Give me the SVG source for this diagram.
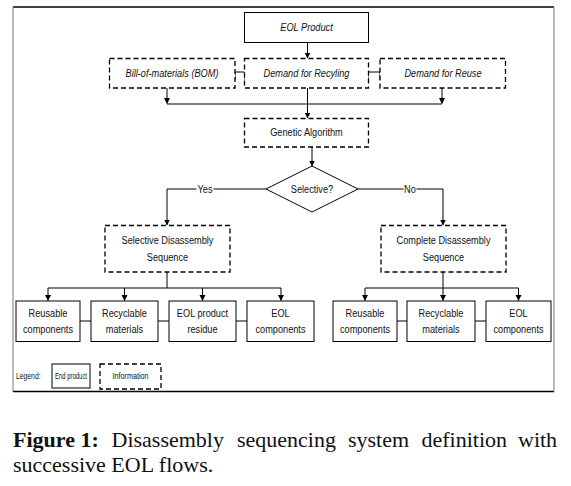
<svg xmlns="http://www.w3.org/2000/svg" width="571" height="486" viewBox="0 0 571 486">
<style>
.solid{fill:#fff;stroke:#000;stroke-width:1}
.dash{fill:#fff;stroke:#000;stroke-width:1.3;stroke-dasharray:5,3}
.t{font-family:"Liberation Sans",Arial,sans-serif;font-size:11.5px;fill:#111;text-anchor:middle}
.i{font-style:italic}
.lg{font-size:8.5px}
.ln{fill:none;stroke:#000;stroke-width:1}
.cap{font-family:"Liberation Serif","Times New Roman",serif;font-size:22px;fill:#111}
</style>
<defs>
<marker id="ar" markerWidth="6" markerHeight="7" refX="5.5" refY="3.5" orient="auto" markerUnits="userSpaceOnUse">
<path d="M0,0.5 L6,3.5 L0,6.5 Z" fill="#000"/>
</marker>
</defs>
<rect width="571" height="486" fill="#fff"/>
<g id="frame">
<line x1="13" y1="7" x2="554" y2="7" stroke="#000" stroke-width="1.5"/>
<line x1="13" y1="391.5" x2="554" y2="391.5" stroke="#000" stroke-width="1.5"/>
<line x1="13" y1="7" x2="13" y2="391.5" stroke="#777" stroke-width="1"/>
<line x1="554" y1="7" x2="554" y2="391.5" stroke="#777" stroke-width="1"/>
</g>
<g id="connectors">
<line class="ln" x1="307.5" y1="42.5" x2="307.5" y2="58" marker-end="url(#ar)"/>
<path class="ln" d="M235,80 V72 H244.5 V80"/>
<path class="ln" d="M368.5,80 V72 H380 V80"/>
<line class="ln" x1="167" y1="88" x2="167" y2="103.5" marker-end="url(#ar)"/>
<line class="ln" x1="442" y1="88" x2="442" y2="103.5" marker-end="url(#ar)"/>
<line class="ln" x1="167" y1="104" x2="442" y2="104"/>
<line class="ln" x1="307.5" y1="88" x2="307.5" y2="118" marker-end="url(#ar)"/>
<line class="ln" x1="312" y1="147" x2="312" y2="166" marker-end="url(#ar)"/>
<path class="ln" d="M266,189 H167 V225" marker-end="url(#ar)"/>
<path class="ln" d="M358,189 H443 V225" marker-end="url(#ar)"/>
<rect x="196.5" y="182" width="17" height="13" fill="#fff"/>
<text class="t" transform="scale(0.8 1)" x="256.25" y="193">Yes</text>
<rect x="403.5" y="182" width="13" height="13" fill="#fff"/>
<text class="t" transform="scale(0.8 1)" x="512.5" y="193">No</text>
<path class="ln" d="M167,272 V288 M48,288 H281"/>
<line class="ln" x1="48" y1="288" x2="48" y2="300.5" marker-end="url(#ar)"/>
<line class="ln" x1="124.5" y1="288" x2="124.5" y2="300.5" marker-end="url(#ar)"/>
<line class="ln" x1="202.5" y1="288" x2="202.5" y2="300.5" marker-end="url(#ar)"/>
<line class="ln" x1="281" y1="288" x2="281" y2="300.5" marker-end="url(#ar)"/>
<path class="ln" d="M443,272 V288 M365,288 H518.5"/>
<line class="ln" x1="365" y1="288" x2="365" y2="300.5" marker-end="url(#ar)"/>
<line class="ln" x1="443" y1="288" x2="443" y2="300.5" marker-end="url(#ar)"/>
<line class="ln" x1="518.5" y1="288" x2="518.5" y2="300.5" marker-end="url(#ar)"/>
<path class="ln" d="M80,321 H91 M158,321 H169 M236,321 H247 M397,321 H407 M475,321 H486"/>
</g>
<g id="eol-product"><rect class="solid" x="244.5" y="12.5" width="124" height="30"/><text class="t i" transform="scale(0.8 1)" x="383.125" y="31.5">EOL Product</text></g>
<g id="bom"><rect class="dash" x="109.5" y="58.5" width="125.5" height="29.5"/><text class="t i" transform="scale(0.8 1)" x="215" y="77">Bill-of-materials (BOM)</text></g>
<g id="demand-recycling"><rect class="dash" x="244.5" y="58.5" width="124" height="29.5"/><text class="t i" transform="scale(0.8 1)" x="383.125" y="77">Demand for Recyling</text></g>
<g id="demand-reuse"><rect class="dash" x="380" y="58.5" width="125.5" height="29.5"/><text class="t i" transform="scale(0.8 1)" x="553.75" y="77">Demand for Reuse</text></g>
<g id="genetic-algorithm"><rect class="dash" x="244.5" y="118.5" width="124" height="28.5"/><text class="t" transform="scale(0.8 1)" x="383.125" y="136.5">Genetic Algorithm</text></g>
<g id="selective"><path class="solid" d="M312,166 L358,189 L312,212 L266,189 Z"/><text class="t" transform="scale(0.8 1)" x="390" y="193">Selective?</text></g>
<g id="selective-seq"><rect class="dash" x="105" y="225.5" width="125" height="46.5"/><text class="t" transform="scale(0.8 1)" x="209.375" y="244">Selective Disassembly</text><text class="t" transform="scale(0.8 1)" x="209.375" y="261">Sequence</text></g>
<g id="complete-seq"><rect class="dash" x="381" y="225.5" width="125" height="46.5"/><text class="t" transform="scale(0.8 1)" x="554.375" y="244">Complete Disassembly</text><text class="t" transform="scale(0.8 1)" x="554.375" y="261">Sequence</text></g>
<g id="l-reusable"><rect class="solid" x="16" y="301" width="64" height="40.5"/><text class="t" transform="scale(0.8 1)" x="60" y="317">Reusable</text><text class="t" transform="scale(0.8 1)" x="60" y="333">components</text></g>
<g id="l-recyclable"><rect class="solid" x="91" y="301" width="67" height="40.5"/><text class="t" transform="scale(0.8 1)" x="155.625" y="317">Recyclable</text><text class="t" transform="scale(0.8 1)" x="155.625" y="333">materials</text></g>
<g id="l-residue"><rect class="solid" x="169" y="301" width="67" height="40.5"/><text class="t" transform="scale(0.8 1)" x="253.125" y="317">EOL product</text><text class="t" transform="scale(0.8 1)" x="253.125" y="333">residue</text></g>
<g id="l-eol-components"><rect class="solid" x="247" y="301" width="67" height="40.5"/><text class="t" transform="scale(0.8 1)" x="350.625" y="317">EOL</text><text class="t" transform="scale(0.8 1)" x="350.625" y="333">components</text></g>
<g id="r-reusable"><rect class="solid" x="333" y="301" width="64" height="40.5"/><text class="t" transform="scale(0.8 1)" x="456.25" y="317">Reusable</text><text class="t" transform="scale(0.8 1)" x="456.25" y="333">components</text></g>
<g id="r-recyclable"><rect class="solid" x="407" y="301" width="68" height="40.5"/><text class="t" transform="scale(0.8 1)" x="551.25" y="317">Recyclable</text><text class="t" transform="scale(0.8 1)" x="551.25" y="333">materials</text></g>
<g id="r-eol-components"><rect class="solid" x="486" y="301" width="65" height="40.5"/><text class="t" transform="scale(0.8 1)" x="648.125" y="317">EOL</text><text class="t" transform="scale(0.8 1)" x="648.125" y="333">components</text></g>
<g id="legend">
<text class="t lg" transform="scale(0.8 1)" x="20" y="379.5" style="text-anchor:start">Legend:</text>
<rect class="solid" x="52" y="364" width="38" height="24"/><text class="t lg" transform="scale(0.7 1)" x="101.43" y="379.5">End product</text>
<rect class="dash" x="100" y="364" width="61" height="25"/><text class="t lg" transform="scale(0.85 1)" x="153.53" y="379.5">Information</text>
</g>
<g id="caption">
<text class="cap" y="447"><tspan x="13" font-weight="bold">Figure 1:</tspan><tspan x="111.5">Disassembly</tspan><tspan x="237">sequencing</tspan><tspan x="348">system</tspan><tspan x="421.5">definition</tspan><tspan x="518">with</tspan></text>
<text class="cap" x="13" y="472">successive EOL flows.</text>
</g>
</svg>
